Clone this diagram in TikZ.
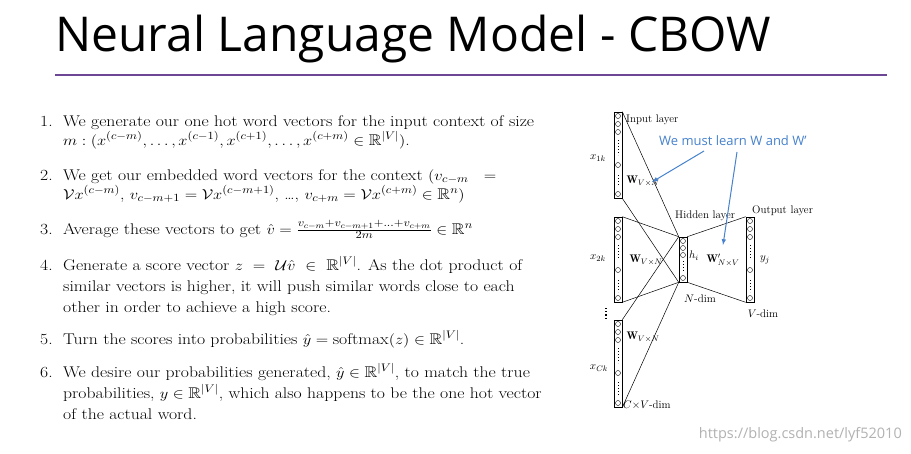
\documentclass[tikz,border=0pt]{standalone}
\usepackage{amssymb}
\usepackage{graphicx}
\usepackage{fontspec}
\newfontfamily\titlefont{Open Sans}
\newcommand{\wide}[1]{\scalebox{1.14}[1]{#1}}
\tikzset{
 col/.style={draw, line width=0.6pt, minimum width=8pt, inner sep=0pt},
 neur/.style={draw, circle, line width=0.4pt, minimum size=5pt, inner sep=0pt},
 conn/.style={line width=0.5pt},
 lab/.style={inner sep=0pt, font=\fontsize{11}{12}\selectfont},
 body/.style={anchor=base west, inner sep=0pt, font=\fontsize{15.5}{18}\selectfont},
 blue arrow/.style={draw=blueish, line width=1pt, -latex},
}
\definecolor{blueish}{RGB}{70,130,205}
\definecolor{rulepurple}{RGB}{110,70,150}
\begin{document}
\begin{tikzpicture}[x=1pt,y=-1pt]
\useasboundingbox (0,0) rectangle (911,453);
\fill[white] (0,0) rectangle (911,453);
\node[anchor=base west, inner sep=0pt, font=\titlefont\fontsize{48}{52}\selectfont] (title) at (55,51) {Neural Language Model - CBOW};
\draw[rulepurple, line width=1.2pt] (55,75) -- (887,75);

% list
\node[body] (n1) at (40,126) {\wide{1.}};
\node[body] (t1a) at (63,126) {\wide{We generate our one hot word vectors for the input context of size}};
\node[body] (t1b) at (63,145) {\wide{$m: (x^{(c-m)},\dots,x^{(c-1)},x^{(c+1)},\dots,x^{(c+m)}\in\mathbb{R}^{|V|})$.}};
\node[body] (n2) at (40,180) {\wide{2.}};
\node[body] (t2a) at (63,180) {\wide{We get our embedded word vectors for the context $(v_{c-m}\ \ =$}};
\node[body] (t2b) at (63,199) {\wide{$\mathcal{V}x^{(c-m)}$, $v_{c-m+1}=\mathcal{V}x^{(c-m+1)}$, \dots, $v_{c+m}=\mathcal{V}x^{(c+m)}\in\mathbb{R}^n)$}};
\node[body] (n3) at (40,234) {\wide{3.}};
\node[body] (t3) at (63,234) {\wide{Average these vectors to get $\hat v=\frac{v_{c-m}+v_{c-m+1}+\ldots+v_{c+m}}{2m}\in\mathbb{R}^n$}};
\node[body] (n4) at (40,270) {\wide{4.}};
\node[body] (t4a) at (63,270) {\wide{Generate a score vector $z\ =\ \mathcal{U}\hat v\ \in\ \mathbb{R}^{|V|}$. As the dot product of}};
\node[body] (t4b) at (63,291) {\wide{similar vectors is higher, it will push similar words close to each}};
\node[body] (t4c) at (63,312) {\wide{other in order to achieve a high score.}};
\node[body] (n5) at (40,344) {\wide{5.}};
\node[body] (t5) at (63,344) {\wide{Turn the scores into probabilities $\hat y=\mathrm{softmax}(z)\in\mathbb{R}^{|V|}$.}};
\node[body] (n6) at (40,377) {\wide{6.}};
\node[body] (t6a) at (63,377) {\wide{We desire our probabilities generated, $\hat y\in\mathbb{R}^{|V|}$, to match the true}};
\node[body] (t6b) at (63,398) {\wide{probabilities, $y\in\mathbb{R}^{|V|}$, which also happens to be the one hot vector}};
\node[body] (t6c) at (63,419) {\wide{of the actual word.}};

% diagram columns
\node[col, minimum height=86pt] (c1) at (618,155) {};
\node[col, minimum height=85pt] (c2) at (618,259.5) {};
\node[col, minimum height=87pt] (c3) at (618,363.5) {};
\node[col, minimum height=45pt] (h) at (683,259.5) {};
\node[col, minimum height=85pt] (o) at (750,259.5) {};
% neurons
\foreach \y in {116,124,132,165,194} \node[neur] (a\y) at (618,\y) {};
\foreach \y in {221,229,237,270,298} \node[neur] (b\y) at (618,\y) {};
\foreach \y in {324,332,340,373,403} \node[neur] (d\y) at (618,\y) {};
\foreach \y in {221,229,237,270,298} \node[neur] (e\y) at (750,\y) {};
\foreach \y in {241,248,255} \node[neur] (f\y) at (683,\y) {};
\node[neur] (f278) at (683,278) {};
\foreach \x/\a/\b in {618/140/155,618/175/186,618/245/260,618/280/292,618/348/363,618/382/395,750/245/260,750/280/292,683/261/273}
  \draw[line width=1pt, dotted] (\x,\a) -- (\x,\b);
% connectors
\draw[conn] (c1.north east) -- (h.north west);
\draw[conn] (c1.south east) -- (h.south west);
\draw[conn] (c2.north east) -- (h.north west);
\draw[conn] (c2.south east) -- (h.south west);
\draw[conn] (c3.north east) -- (h.north west);
\draw[conn] (c3.south east) -- (h.south west);
\draw[conn] (h.north east) -- (o.north west);
\draw[conn] (h.south east) -- (o.south west);
% labels
\node[lab, anchor=west] (il) at (626,120) {Input layer};
\node[lab, anchor=west] (hl) at (675,216) {Hidden layer};
\node[lab, anchor=west] (ol) at (752,211) {Output layer};
\node[lab] (x1) at (598,158) {$x_{1k}$};
\node[lab] (x2) at (598,258) {$x_{2k}$};
\node[lab] (xc) at (599,368) {$x_{Ck}$};
\node[lab] (w1) at (643,181) {$\mathbf{W}_{V\times N}$};
\node[lab] (w2) at (646,260) {$\mathbf{W}_{V\times N}$};
\node[lab] (w3) at (643,337) {$\mathbf{W}_{V\times N}$};
\node[lab] (hi) at (694,256) {$h_i$};
\node[lab] (wp) at (723,260) {$\mathbf{W}'_{N\times V}$};
\node[lab] (yj) at (765,260) {$y_j$};
\node[lab] (nd) at (700,299) {$N$-dim};
\node[lab] (vd) at (763,314) {$V$-dim};
\node[lab, anchor=west] (cv) at (623,405) {$C{\times}V$-dim};
\draw[line width=1.2pt, dotted] (606,308) -- (606,320);
% blue annotation
\node[inner sep=0pt, anchor=west, text=blueish, font=\titlefont\fontsize{13}{14}\selectfont] (note) at (659,141) {We must learn W and W’};
\coordinate (ta) at (652,182);
\coordinate (tb) at (723,245);
\draw[blue arrow] (704,151) -- (ta);
\draw[blue arrow] (737,152) -- (tb);
% watermark
\node[inner sep=0pt, anchor=east, text=gray!60, font=\titlefont\fontsize{14.5}{15}\selectfont] (wm) at (902,435) {https://blog.csdn.net/lyf52010};
\end{tikzpicture}
\end{document}
